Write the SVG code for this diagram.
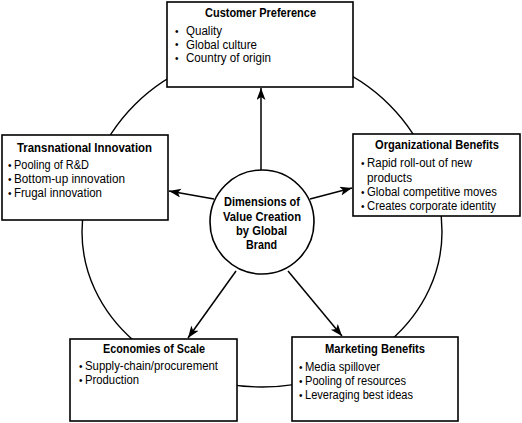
<svg xmlns="http://www.w3.org/2000/svg" width="522" height="423" viewBox="0 0 522 423">
<style>
.box{fill:#fff;stroke:#000;stroke-width:1.6}
.ring{fill:none;stroke:#000;stroke-width:1.4}
.conn{stroke:#000;stroke-width:1.5;fill:none;marker-end:url(#ah)}
text{font-family:"Liberation Sans",Arial,sans-serif;font-size:12.3px;fill:#000}
.b{font-size:10px}
.t{font-weight:bold;text-anchor:middle}
.c{font-weight:bold;text-anchor:middle}
</style>
<defs>
<marker id="ah" markerUnits="userSpaceOnUse" markerWidth="14" markerHeight="10" refX="12" refY="4.5" orient="auto">
<path d="M0,0 L12,4.5 L0,9 L3,4.5 Z" fill="#000"/>
</marker>
</defs>
<path class="ring" d="M82,232 A180,180 0 0 1 442,232 A180,155 0 0 1 82,232 Z"/>
<g id="connectors">
<line class="conn" x1="261" y1="170" x2="261" y2="88"/>
<line class="conn" x1="214" y1="199" x2="169" y2="191"/>
<line class="conn" x1="310" y1="199" x2="352" y2="188"/>
<line class="conn" x1="236" y1="271" x2="188" y2="338"/>
<line class="conn" x1="288" y1="271" x2="342" y2="336"/>
</g>
<g id="customer-preference">
<rect class="box" x="167" y="2" width="186" height="85"/>
<text class="t" x="260.5" y="17" textLength="111" lengthAdjust="spacingAndGlyphs">Customer Preference</text>
<text class="b" x="175" y="34.5">•</text><text x="186" y="35" textLength="36" lengthAdjust="spacingAndGlyphs">Quality</text>
<text class="b" x="175" y="48">•</text><text x="186" y="48.5" textLength="71" lengthAdjust="spacingAndGlyphs">Global culture</text>
<text class="b" x="175" y="61.5">•</text><text x="186" y="62" textLength="85" lengthAdjust="spacingAndGlyphs">Country of origin</text>
</g>
<g id="transnational-innovation">
<rect class="box" x="2" y="135" width="166" height="85"/>
<text class="t" x="84.5" y="152" textLength="135" lengthAdjust="spacingAndGlyphs">Transnational Innovation</text>
<text class="b" x="8" y="168.5">•</text><text x="14" y="169" textLength="75" lengthAdjust="spacingAndGlyphs">Pooling of R&amp;D</text>
<text class="b" x="8" y="182.5">•</text><text x="14" y="183" textLength="111" lengthAdjust="spacingAndGlyphs">Bottom-up innovation</text>
<text class="b" x="8" y="196.5">•</text><text x="14" y="197" textLength="88" lengthAdjust="spacingAndGlyphs">Frugal innovation</text>
</g>
<g id="organizational-benefits">
<rect class="box" x="353" y="134" width="167" height="82"/>
<text class="t" x="437" y="149" textLength="124" lengthAdjust="spacingAndGlyphs">Organizational Benefits</text>
<text class="b" x="361" y="166.5">•</text><text x="367" y="167" textLength="105" lengthAdjust="spacingAndGlyphs">Rapid roll-out of new</text>
<text x="367" y="181.5" textLength="45" lengthAdjust="spacingAndGlyphs">products</text>
<text class="b" x="361" y="195.5">•</text><text x="367" y="196" textLength="130" lengthAdjust="spacingAndGlyphs">Global competitive moves</text>
<text class="b" x="361" y="209.5">•</text><text x="367" y="210" textLength="129" lengthAdjust="spacingAndGlyphs">Creates corporate identity</text>
</g>
<g id="economies-of-scale">
<rect class="box" x="70" y="339" width="167" height="82"/>
<text class="t" x="154" y="353" textLength="102" lengthAdjust="spacingAndGlyphs">Economies of Scale</text>
<text class="b" x="79" y="369.5">•</text><text x="85" y="370" textLength="133" lengthAdjust="spacingAndGlyphs">Supply-chain/procurement</text>
<text class="b" x="79" y="383.5">•</text><text x="85" y="384" textLength="54" lengthAdjust="spacingAndGlyphs">Production</text>
</g>
<g id="marketing-benefits">
<rect class="box" x="292" y="337" width="166" height="84"/>
<text class="t" x="375" y="353" textLength="100" lengthAdjust="spacingAndGlyphs">Marketing Benefits</text>
<text class="b" x="299" y="370.5">•</text><text x="305" y="371" textLength="75" lengthAdjust="spacingAndGlyphs">Media spillover</text>
<text class="b" x="299" y="384.5">•</text><text x="305" y="385" textLength="101" lengthAdjust="spacingAndGlyphs">Pooling of resources</text>
<text class="b" x="299" y="398.5">•</text><text x="305" y="399" textLength="108" lengthAdjust="spacingAndGlyphs">Leveraging best ideas</text>
</g>
<g id="center">
<circle cx="262" cy="222" r="52" fill="#fff" stroke="#000" stroke-width="1.6"/>
<text class="c" x="262" y="206" textLength="76" lengthAdjust="spacingAndGlyphs">Dimensions of</text>
<text class="c" x="262" y="221" textLength="78" lengthAdjust="spacingAndGlyphs">Value Creation</text>
<text class="c" x="261.5" y="235" textLength="51" lengthAdjust="spacingAndGlyphs">by Global</text>
<text class="c" x="261.5" y="249" textLength="31" lengthAdjust="spacingAndGlyphs">Brand</text>
</g>
</svg>
